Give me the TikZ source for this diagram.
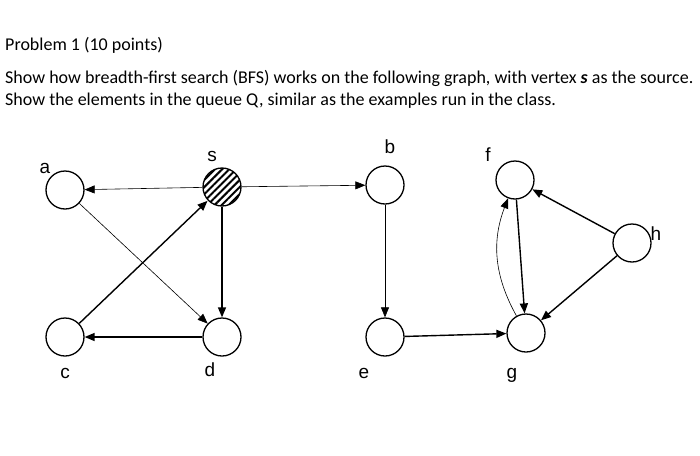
\documentclass[tikz,border=0pt]{standalone}
\usepackage{fontspec}
\setmainfont{Carlito}
\newfontfamily\labfont{Liberation Sans}
\usetikzlibrary{arrows.meta,patterns.meta}
\begin{document}
\begin{tikzpicture}[x=1pt,y=-1pt,
  vtx/.style={circle,draw,line width=1.3pt,minimum size=38pt,inner sep=0pt,fill=white},
  lab/.style={font=\fontsize{19}{19}\labfont\selectfont},
  thin/.style={-{Triangle[length=10pt,width=8pt]},line width=0.6pt},
  thick/.style={-{Triangle[length=10pt,width=8pt]},line width=1.4pt},
  txt/.style={anchor=west,font=\fontsize{18}{20}\selectfont,inner sep=0pt}]
\useasboundingbox (0,0) rectangle (700,455);
\fill[white] (0,0) rectangle (700,455);
\node[txt] (t1) at (5,45) {Problem 1 (10 points)};
\node[txt] (t2) at (5,78) {Show how breadth-first search (BFS) works on the following graph, with vertex \textbf{\textit{s}} as the source.};
\node[txt] (t3) at (5,101) {Show the elements in the queue Q, similar as the examples run in the class.};
\node[vtx] (a) at (65,190) {};
\node[vtx,pattern={Lines[angle=45,distance=5pt,line width=2pt]},pattern color=black] (s) at (222,187) {};
\node[vtx] (b) at (385,185) {};
\node[vtx] (f) at (515,180) {};
\node[vtx] (h) at (632,243) {};
\node[vtx] (c) at (65,337) {};
\node[vtx] (d) at (222,337) {};
\node[vtx] (e) at (385,337) {};
\node[vtx] (g) at (526,333) {};
\node[lab] (ls) at (212,156) {s};
\node[lab] (la) at (45,168) {a};
\node[lab] (lb) at (390,147) {b};
\node[lab] (lf) at (488,155) {f};
\node[lab] (lh) at (656,234) {h};
\node[lab] (lc) at (65,373) {c};
\node[lab] (ld) at (210,370) {d};
\node[lab] (le) at (364,373) {e};
\node[lab] (lg) at (512,375) {g};
\draw[thin] (s) -- (a);
\draw[thin] (s) -- (b);
\draw[thick] (s) -- (d);
\draw[thin] (a) -- (d);
\draw[thick] (d) -- (c);
\draw[thick] (c) -- (s);
\draw[thin] (b) -- (e);
\draw[thick] (e) -- (g);
\draw[thick] (f) -- (g);
\draw[thin] (g) to[bend left=25] (f);
\draw[thick] (h) -- (f);
\draw[thick] (h) -- (g);
\end{tikzpicture}
\end{document}
